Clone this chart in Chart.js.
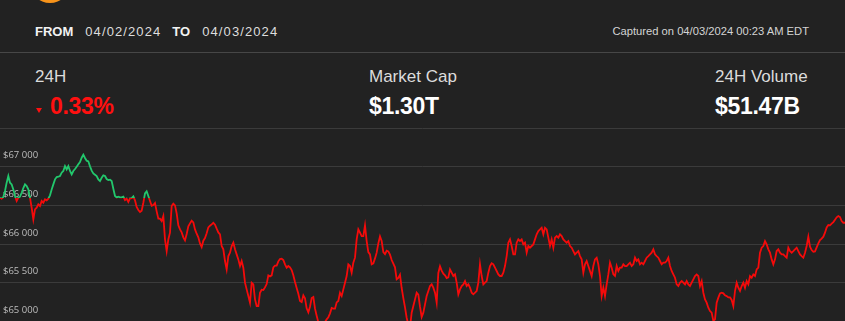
<!DOCTYPE html>
<html>
<head>
<meta charset="utf-8">
<script src="https://cdn.jsdelivr.net/npm/chart.js@4.4.1/dist/chart.umd.min.js"></script>
<style>
  html, body { margin: 0; padding: 0; }
  body { width: 845px; height: 321px; overflow: hidden; background: #222222; position: relative;
         font-family: "Liberation Sans", Arial, Helvetica, sans-serif; }
  .abs { position: absolute; white-space: nowrap; line-height: 1; }
  .coin { position: absolute; left: 30px; top: -37px; width: 40px; height: 40px; border-radius: 50%; background: #f7931a; }
  .sep { position: absolute; left: 0; width: 845px; height: 1px; background: #474747; }
  .lbl { font-size: 17px; color: #dcdcdc; }
  .val { font-size: 23px; font-weight: bold; color: #ffffff; letter-spacing: -0.3px; }
  .tri { position: absolute; left: 36px; top: 108px; width: 0; height: 0;
         border-left: 3.5px solid transparent; border-right: 3.5px solid transparent; border-top: 5px solid #ff1010; }
  #wrap { position: absolute; left: 0; top: 128px; width: 845px; height: 232px; }
</style>
</head>
<body>
<div class="coin"></div>
<div class="abs" style="left:35px; top:25px; font-size:13px;">
  <span style="font-weight:bold; color:#f2f2f2;">FROM</span><span style="color:#dedede; letter-spacing:1.1px; margin-left:12px;">04/02/2024</span><span style="font-weight:bold; color:#f2f2f2; margin-left:11px;">TO</span><span style="color:#dedede; letter-spacing:1.1px; margin-left:12px;">04/03/2024</span>
</div>
<div class="abs" style="right:36px; top:26px; font-size:11.2px; color:#d4d4d4;">Captured on 04/03/2024 00:23 AM EDT</div>
<div class="sep" style="top:52px;"></div>

<div class="abs lbl" style="left:35px; top:68px;">24H</div>
<div class="tri"></div>
<div class="abs val" style="left:50px; top:95px; color:#ff1010;">0.33%</div>
<div class="abs lbl" style="left:369px; top:68px;">Market Cap</div>
<div class="abs val" style="left:369px; top:95px;">$1.30T</div>
<div class="abs lbl" style="left:715px; top:68px;">24H Volume</div>
<div class="abs val" style="left:715px; top:95px;">$51.47B</div>

<div id="wrap"><canvas id="c" width="845" height="232"></canvas></div>

<script>
// ---- data (BTC price, USD) ----
const referencePrice = 66590; // price at start of 24h window
const yTickValues = [64500, 65000, 65500, 66000, 66500, 67000, 67500];

const pricesA = [66599,66586,66607,66685,66793,66879,66793,66771,66706,66620,66556,66599,66612,66663,66724,66771,66750,66706,66599,66469,
  66319,66448,66469,66513,66491,66556,66534,66577,66564,66586,66629,66706,66771,66836,66866,66870,66879,66922,66944,67008,
  66965,67008,66944,66900,66944,66969,66999,67030,67060,67116,67155,67112,67077,67069,67004,66948,66913,66896,66879,66836,
  66814,66857,66888,66879,66840,66827,66831,66814,66715,66620,66603,66612,66603,66603,66612,66569,66586,66543,66590,66594,
  66616,66564,66478,66439,66413,66431,66534,66655,66681,66620,66556,66495,66504,66530,66422,66327,66327,66297,66362,66060,
  65909,66060];
const pricesB = [66146,66491,66521,66500,66396,66241,66189,66150,66086,66047,66129,66228,66267,66301,66280,66189,66133,66086,66008,65961,
  66043,66077,66138,66215,66237,66254,66275,66250,66198,66150,66125,65974,65931,65780,65672,65844,65888,65974,66017,65931,
  65866,65801,65715,65780,65694,65500,65413,65327,65241,65500,65478,65284,65198,65198,65370,65409,65405,65439,65482,65595,
  65582,65595,65698,65720,65720,65776,65806,65810,65793,65737,65694,65715,65698,65663,65595,65508,65431,65357,65263,65250,
  65336,65297,65168,65116,65189,65301,65314,65164,65073,64987,64918,64939,64961,64991,65026,65051,65103,65172,65164,65164,
  65245,65263];
const pricesC = [65370,65327,65413,65500,65586,65737,65715,65629,65758,65823,66060,66189,66146,66103,66103,66241,66038,65896,65866,65737,
  65750,65814,65888,66008,66099,66038,65896,65870,65913,65905,65862,65793,65745,65698,65543,65560,65603,65431,65301,65181,
  65047,64957,64918,65112,65198,65284,65370,65345,65189,65056,65112,65220,65327,65392,65457,65478,65435,65370,65241,65625,
  65711,65655,65616,65595,65560,65569,65672,65629,65586,65607,65500,65349,65413,65457,65478,65521,65457,65478,65435,65370,
  65349,65370,65392,65500,65737,65586,65478,65500,65521,65629,65715,65750,65737,65694,65651,65607,65586,65586,65629,65715,
  65844,66017];
const pricesD = [66060,65974,65866,65866,66017,66060,66038,66060,65995,66017,65888,65974,65952,65974,65995,66060,66125,66168,66189,66211,
  66125,66211,66189,66082,65974,66060,65952,66082,66103,66082,66125,66103,66060,66038,66017,66038,65974,65952,65909,65866,
  65888,65909,65844,65801,65629,65737,65780,65715,65651,65586,65715,65801,65823,65737,65586,65327,65435,65327,65478,65607,
  65758,65694,65607,65586,65715,65651,65694,65694,65737,65715,65715,65737,65758,65715,65737,65823,65780,65801,65737,65758,
  65737,65780,65823,65844,65866,65888,65931,65866,65844,65823,65780,65737,65758,65758,65780,65823,65715,65651,65607,65564,
  65478,65457];
const pricesE = [65500,65521,65500,65478,65521,65478,65457,65500,65543,65586,65607,65586,65457,65521,65370,65284,65241,65176,65133,65112,
  65004,65026,65241,65306,65362,65370,65362,65336,65327,65310,65310,65276,65198,65392,65500,65435,65392,65457,65500,65435,
  65521,65478,65586,65564,65607,65586,65672,65694,65888,65952,65974,66038,65995,65931,65888,65801,65737,65801,65909,65931,
  65888,65866,65866,65844,65823,65952,65909,65888,65909,65931,65952,65909,65866,65844,65823,65888,65974,66094,65965,65922,
  65901,65905,65957,66008,66051,66069,66095,66146,66215,66245,66241,66263,66284,66314,66345,66362,66349,66297,66275,66275];

const prices = [].concat(pricesA, pricesB, pricesC, pricesD, pricesE);

// time labels across the 24h window (04/02/2024 00:23 -> 04/03/2024 00:23)
const startMinutes = 23;
const timeLabels = prices.map((_, i) => {
  const m = Math.round(startMinutes + i * 1440 / (prices.length - 1)) % 1440;
  return String(Math.floor(m / 60)).padStart(2, '0') + ':' + String(m % 60).padStart(2, '0');
});

const GREEN = '#22c76c';
const RED = '#f50a0a';

function splitColor(ctx) {
  const chart = ctx.chart;
  const area = chart.chartArea;
  if (!area) return RED;
  const yRef = chart.scales.y.getPixelForValue(referencePrice);
  let f = (yRef - area.top) / (area.bottom - area.top);
  f = Math.max(0, Math.min(1, f));
  const g = chart.ctx.createLinearGradient(0, area.top, 0, area.bottom);
  g.addColorStop(0, GREEN);
  g.addColorStop(f, GREEN);
  g.addColorStop(f, RED);
  g.addColorStop(1, RED);
  return g;
}

const fmt = v => '$' + String(v).replace(/\B(?=(\d{3})+(?!\d))/g, ' ');

new Chart(document.getElementById('c'), {
  type: 'line',
  data: {
    labels: timeLabels,
    datasets: [{
      data: prices,
      borderColor: splitColor,
      borderWidth: 1.8,
      pointRadius: 0,
      tension: 0,
      fill: false
    }]
  },
  options: {
    responsive: false,
    animation: false,
    devicePixelRatio: 1,
    layout: { padding: 0 },
    plugins: { legend: { display: false }, tooltip: { enabled: false } },
    scales: {
      x: { type: 'category', display: false },
      y: {
        min: 64500, max: 67500,
        afterBuildTicks: s => { s.ticks = yTickValues.map(v => ({ value: v })); },
        grid: { color: '#3b3b3b', lineWidth: 1, drawTicks: false },
        border: { display: false },
        ticks: {
          mirror: true, padding: 3, labelOffset: -11,
          color: '#bdbdbd',
          font: { family: 'Open Sans', size: 9.5 },
          callback: v => fmt(v)
        },
        afterFit: s => { s.width = 0; s.paddingTop = 0; s.paddingBottom = 0; }
      }
    }
  }
});
</script>
</body>
</html>
